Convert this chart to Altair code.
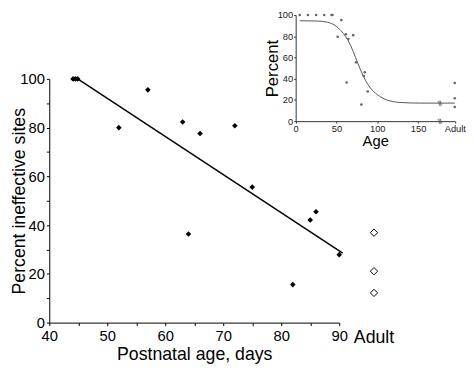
import altair as alt
import pandas as pd

FONT = "Liberation Sans"

# ---- main panel data ----
age = [44.1, 44.5, 44.9, 52, 57, 63, 64, 66, 72, 75, 82, 85, 86, 90]
pct = [100, 100, 100, 80, 95.5, 82.3, 36.4, 77.6, 80.8, 55.6, 15.6, 42.1, 45.5, 27.9]
adult_x = [96, 96, 96]
adult_pct = [36.9, 21.1, 12.2]
fit_age = [44.9, 90.6]
fit_pct = [100, 28.5]
x_ticks = [40, 45, 50, 55, 60, 65, 70, 75, 80, 85, 90]
y_ticks = [0, 10, 20, 30, 40, 50, 60, 70, 80, 90, 100]
adult_label = ["Adult"]
adult_label_x = [96]

# ---- inset data ----
in_age = [5, 15, 25, 35, 44, 45, 51.5, 56, 61.5, 64.5, 70.5, 74, 62.5, 80.5, 83.5, 84.7, 88.3]
in_pct = [100, 100, 100, 100, 100, 100, 79.5, 95.2, 81.8, 77.3, 81, 55.4, 36.4, 15.6, 42.6, 46, 27.9]
in_adult_age = [195, 195, 195]
in_adult_pct = [36, 21.6, 13.4]
curve_age = [5, 27, 39, 49.5, 55.5, 61.5, 67.5, 73.5, 79.5, 85.5, 91.5, 100, 112, 128, 152, 195]
curve_pct = [94.6, 94.3, 93.2, 89.5, 85.2, 79.5, 71, 59.7, 48.3, 38.4, 31.3, 25, 19.9, 17.6, 17, 17]
break_age = [177, 177]
break_pct = [17, 0]
in_x_ticks = [0, 50, 100, 150, 195]
in_y_ticks = [0, 20, 40, 60, 80, 100]

W, H = 295, 248
IN_BOTTOM = 43

main_df = pd.DataFrame({"x": age, "y": pct})
adult_df = pd.DataFrame({"x": adult_x, "y": adult_pct})
fit_df = pd.DataFrame({"x": fit_age, "y": fit_pct})
lab_df = pd.DataFrame({"x": adult_label_x, "label": adult_label})

in_df = pd.DataFrame({"a": in_age + in_adult_age, "p": in_pct + in_adult_pct})
curve_df = pd.DataFrame({"a": curve_age, "p": curve_pct})
break_df = pd.DataFrame({"a": break_age, "p": break_pct, "t": ["≈", "≈"]})

common = dict(domainColor="black", tickColor="black", labelColor="black",
              titleColor="black", grid=False, labelFont=FONT, titleFont=FONT,
              titleFontWeight="normal")

mx = alt.X("x:Q", scale=alt.Scale(domain=[40, 90]),
           axis=alt.Axis(values=x_ticks,
                         labelExpr="datum.value % 10 == 0 ? datum.label : ''",
                         title="Postnatal age, days", titleFontSize=18,
                         titleY=38, titleBaseline="alphabetic",
                         labelFontSize=15, labelFlush=False, labelOverlap=False,
                         tickSize=3, labelPadding=3, **common))
my = alt.Y("y:Q", scale=alt.Scale(domain=[0, 100]),
           axis=alt.Axis(values=y_ticks,
                         labelExpr="datum.value % 20 == 0 ? datum.label : ''",
                         title="Percent ineffective sites", titleFontSize=18,
                         titleX=-25, titleBaseline="alphabetic",
                         labelFontSize=15, labelOverlap=False,
                         tickSize=3, labelPadding=2, **common))

fit_line = alt.Chart(fit_df).mark_line(color="black", strokeWidth=1.5).encode(x=mx, y=my)
pts = alt.Chart(main_df).mark_point(shape="diamond", filled=True, size=32,
                                    color="black", opacity=1).encode(x=mx, y=my)
adult_pts = alt.Chart(adult_df).mark_point(shape="diamond", filled=False, size=55,
                                           color="black", strokeWidth=1,
                                           opacity=1).encode(x=mx, y=my)
adult_text = alt.Chart(lab_df).mark_text(font=FONT, fontSize=18, baseline="alphabetic",
                                         align="center", color="black").encode(
    x=mx, y=alt.value(H + 21), text="label:N")

icommon = dict(domainColor="#333", tickColor="#333", labelColor="#222",
               titleColor="black", grid=False, labelFont=FONT, titleFont=FONT,
               titleFontWeight="normal")

ix = alt.X("a:Q", scale=alt.Scale(domain=[0, 195], range=[250.7, 412.6]),
           axis=alt.Axis(orient="bottom", offset=-(H - IN_BOTTOM), values=in_x_ticks,
                         labelExpr="datum.value == 195 ? 'Adult' : datum.label",
                         title="Age", titleFontSize=15, titleY=25,
                         titleBaseline="alphabetic", labelFontSize=9.5,
                         tickSize=2, labelPadding=1, labelFlush=False,
                         labelOverlap=False, **icommon))
iy = alt.Y("p:Q", scale=alt.Scale(domain=[0, 100], range=[IN_BOTTOM, -65]),
           axis=alt.Axis(orient="left", offset=-250.7, values=in_y_ticks,
                         title="Percent", titleFontSize=17, titleX=-18.7,
                         titleY=-11, titleBaseline="alphabetic",
                         labelFontSize=9.5, tickSize=2, labelPadding=1,
                         labelOverlap=False, **icommon))

curve = alt.Chart(curve_df).mark_line(color="#555", strokeWidth=1,
                                      interpolate="monotone").encode(x=ix, y=iy)
ipts = alt.Chart(in_df).mark_point(shape="circle", filled=True, size=7,
                                   color="#666", opacity=1).encode(x=ix, y=iy)
breaks = alt.Chart(break_df).mark_text(font="DejaVu Sans", fontSize=9, angle=70,
                                       color="#444").encode(x=ix, y=iy, text="t:N")

main = alt.layer(fit_line, pts, adult_pts, adult_text)
inset = alt.layer(curve, ipts, breaks)

chart = alt.layer(main, inset).resolve_scale(
    x="independent", y="independent"
).properties(
    width=W, height=H,
    autosize=alt.AutoSizeParams(type="none"),
    padding={"left": 42, "top": 69, "right": 129, "bottom": 41},
).configure_view(strokeWidth=0)

chart.save("out.html", embed_options={"renderer": "svg", "actions": False})
